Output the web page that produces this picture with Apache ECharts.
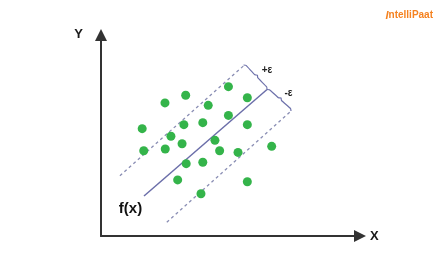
<!DOCTYPE html>
<html>
<head>
<meta charset="utf-8">
<script src="https://cdn.jsdelivr.net/npm/echarts@6/dist/echarts.min.js"></script>
<style>html,body{margin:0;padding:0;background:#fff;}#c{width:438px;height:270px;}</style>
</head>
<body>
<div id="c"></div>
<script>
// Scatter observations (data units: x 0..10, y 0..10)
const pointsX = [4.92, 3.27, 2.47, 5.65, 4.14, 4.92, 1.59, 3.20, 3.93, 5.65, 2.70, 3.13, 4.40, 1.65, 2.48, 4.58, 5.29, 6.59, 3.29, 3.93, 2.96, 5.65, 3.86];
const pointsY = [7.43, 7.00, 6.62, 6.88, 6.50, 6.00, 5.34, 5.54, 5.64, 5.54, 4.96, 4.59, 4.76, 4.24, 4.33, 4.24, 4.16, 4.46, 3.60, 3.67, 2.79, 2.70, 2.10];
// Regression line f(x) and the +/- epsilon tube
const fxLine = [[1.66, 1.99], [6.41, 7.29]];
const upperTube = [[0.73, 3.00], [5.50, 8.46]];
const lowerTube = [[2.54, 0.68], [7.34, 6.22]];
// Curly braces marking the epsilon margins
const bracePlus = [[5.502, 8.507], [5.598, 8.488], [5.942, 8.020], [6.039, 8.000], [6.050, 7.876], [6.398, 7.413], [6.409, 7.289]];
const braceMinus = [[6.409, 7.289], [6.506, 7.279], [6.853, 6.876], [6.950, 6.866], [6.969, 6.741], [7.317, 6.343], [7.336, 6.219]];
// Annotation texts and their anchors
const annotTexts = ['f(x)', '+ε', '-ε'];
const annotAnchors = [[1.14, 1.34], [6.41, 8.27], [7.24, 7.11]];
const axisNames = ['X', 'Y'];

const chart = echarts.init(document.getElementById('c'), null, {renderer: 'canvas'});
const axisColor = '#333';
const baseAxis = {
  type: 'value', min: 0, max: 10,
  axisLabel: {show: false}, axisTick: {show: false}, splitLine: {show: false},
  axisLine: {show: true, symbol: ['none', 'triangle'], symbolSize: [12, 12],
    lineStyle: {color: axisColor, width: 2}}
};
const lineStyleFx = {color: '#6b6ea9', width: 1.5};
const tubeStyle = {color: '#8a8eb4', width: 1.3, type: [3, 3]};
const braceStyle = {color: '#6e72ab', width: 1.2};

function lineSeries(data, style, smooth) {
  return {type: 'line', data: data, symbol: 'none', smooth: smooth || false,
    lineStyle: style, silent: true, z: 2, animation: false};
}

const annotFont = [
  {fontSize: 15, fontWeight: 'bold', color: '#111'},
  {fontSize: 10, fontWeight: 'bold', color: '#222'},
  {fontSize: 10, fontWeight: 'bold', color: '#222'}
];

chart.setOption({
  animation: false,
  backgroundColor: '#fff',
  title: {
    text: '{a|I}{b|ntelliPaat}',
    right: 5, top: 10, padding: 0,
    textStyle: {rich: {
      a: {color: '#f58220', fontSize: 11, fontWeight: 'bold', fontStyle: 'italic', fontFamily: 'Liberation Sans'},
      b: {color: '#f58220', fontSize: 10, fontWeight: 'bold', fontFamily: 'Liberation Sans'}
    }}
  },
  grid: {left: 101, right: 78, top: 35, bottom: 34},
  xAxis: Object.assign({}, baseAxis, {
    name: axisNames[0], nameLocation: 'end', nameGap: 10,
    nameTextStyle: {color: '#1a1a1a', fontSize: 13, fontWeight: 'bold', fontFamily: 'Liberation Sans'}
  }),
  yAxis: Object.assign({}, baseAxis, {
    name: axisNames[1], nameLocation: 'end', nameGap: 1,
    nameTextStyle: {color: '#1a1a1a', fontSize: 13, fontWeight: 'bold', fontFamily: 'Liberation Sans',
      align: 'right', verticalAlign: 'middle', padding: [0, 18, 0, 0]}
  }),
  series: [
    lineSeries(upperTube, tubeStyle),
    lineSeries(lowerTube, tubeStyle),
    lineSeries(fxLine, lineStyleFx),
    lineSeries(bracePlus, braceStyle, 0.15),
    lineSeries(braceMinus, braceStyle, 0.15),
    {
      type: 'scatter', z: 5, symbolSize: 9,
      itemStyle: {color: '#34b44a', opacity: 1},
      data: pointsX.map((x, i) => [x, pointsY[i]])
    },
    {
      type: 'scatter', z: 6, symbolSize: 0, silent: true,
      itemStyle: {opacity: 1, color: 'transparent'},
      label: {show: true, position: 'inside', formatter: p => p.name,
        color: '#111', fontFamily: 'Liberation Sans', fontWeight: 'bold', fontSize: 10,
        align: 'center', verticalAlign: 'middle'},
      data: annotTexts.map((t, i) => ({
        name: t, value: annotAnchors[i],
        label: annotFont[i]
      }))
    }
  ]
});
</script>
</body>
</html>
